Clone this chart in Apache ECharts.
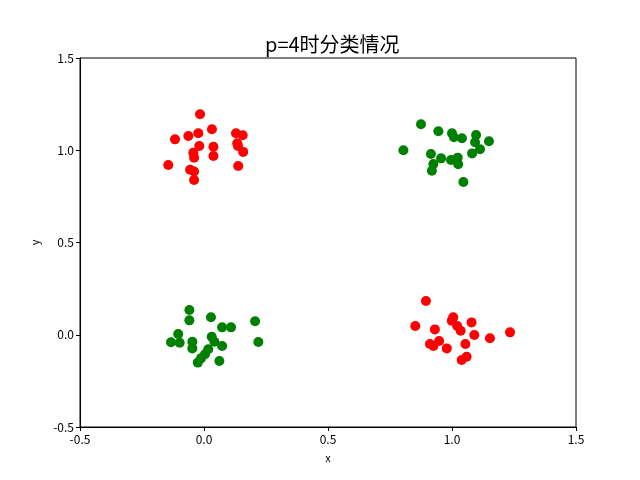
<!DOCTYPE html>
<html><head><meta charset="utf-8">
<script src="https://cdn.jsdelivr.net/npm/echarts@6/dist/echarts.min.js"></script>
<style>html,body{margin:0;padding:0;background:#fff}#c{width:640px;height:480px}</style>
</head><body><div id="c"></div>
<script>
const titleText = "p=4时分类情况";
const xTicks = [-0.5, 0.0, 0.5, 1.0, 1.5];
const yTicks = [-0.5, 0.0, 0.5, 1.0, 1.5];
const redTopLeft = [[-0.016,1.195],[-0.117,1.059],[-0.063,1.077],[-0.023,1.092],[0.032,1.114],[0.129,1.092],[0.156,1.081],[0.134,1.038],[0.137,1.023],[0.158,0.991],[-0.019,1.023],[0.038,1.019],[-0.043,0.987],[0.038,0.969],[-0.040,0.960],[-0.144,0.920],[-0.056,0.894],[-0.040,0.885],[0.138,0.915],[-0.040,0.839]];
const greenTopRight = [[0.875,1.141],[0.804,1.000],[0.945,1.103],[1.000,1.092],[1.008,1.070],[1.040,1.065],[1.097,1.083],[1.093,1.043],[1.149,1.049],[1.113,1.005],[1.081,0.983],[0.915,0.980],[0.956,0.956],[0.996,0.947],[1.023,0.960],[1.025,0.924],[0.925,0.925],[0.919,0.889],[1.046,0.828]];
const greenBottomLeft = [[-0.059,0.134],[-0.059,0.078],[0.028,0.095],[0.206,0.073],[0.109,0.040],[0.073,0.040],[-0.104,0.004],[-0.133,-0.041],[-0.098,-0.043],[-0.047,-0.038],[-0.047,-0.074],[0.031,-0.011],[0.042,-0.038],[0.073,-0.061],[0.219,-0.039],[0.017,-0.079],[0.004,-0.106],[-0.012,-0.128],[-0.025,-0.151],[0.062,-0.142]];
const redBottomRight = [[0.895,0.183],[0.852,0.047],[0.931,0.029],[1.005,0.095],[0.999,0.076],[1.021,0.047],[1.035,0.022],[1.079,0.067],[1.090,-0.001],[1.153,-0.019],[1.234,0.013],[0.911,-0.050],[0.925,-0.061],[0.948,-0.034],[0.979,-0.074],[1.054,-0.050],[1.059,-0.119],[1.039,-0.137]];

const font = "'Noto Sans CJK SC', 'DejaVu Sans', sans-serif";
const chart = echarts.init(document.getElementById('c'));
function axis(name, ticks, isX){
  return {
    type:'value', min:ticks[0], max:ticks[ticks.length-1], interval:0.5,
    name:name, nameLocation:'middle', nameGap: isX?25:40,
    nameTextStyle:{color:'#000', fontSize:11, fontFamily:font},
    axisLine:{show:true, onZero:false, lineStyle:{color:'#000', width:1}},
    axisTick:{show:true, inside:false, length:4, lineStyle:{color:'#000'}},
    axisLabel:{color:'#000', fontSize:12, fontFamily:font, margin:6,
      formatter:v=>v.toFixed(1)},
    splitLine:{show:false}
  };
}
chart.setOption({
  animation:false,
  backgroundColor:'#fff',
  title:{text:titleText, left:260, top:29, textStyle:{fontSize:20, fontWeight:'normal', color:'#000', fontFamily:font}},
  grid:{left:80, right:64, top:58, bottom:53, show:true, borderColor:'#000', borderWidth:1, backgroundColor:'transparent'},
  xAxis: axis('x', xTicks, true),
  yAxis: axis('y', yTicks, false),
  series:[
    {type:'scatter', data:redTopLeft, symbolSize:10, itemStyle:{color:'#ff0000', opacity:1}},
    {type:'scatter', data:greenTopRight, symbolSize:10, itemStyle:{color:'#008000', opacity:1}},
    {type:'scatter', data:greenBottomLeft, symbolSize:10, itemStyle:{color:'#008000', opacity:1}},
    {type:'scatter', data:redBottomRight, symbolSize:10, itemStyle:{color:'#ff0000', opacity:1}}
  ]
});
</script></body></html>
